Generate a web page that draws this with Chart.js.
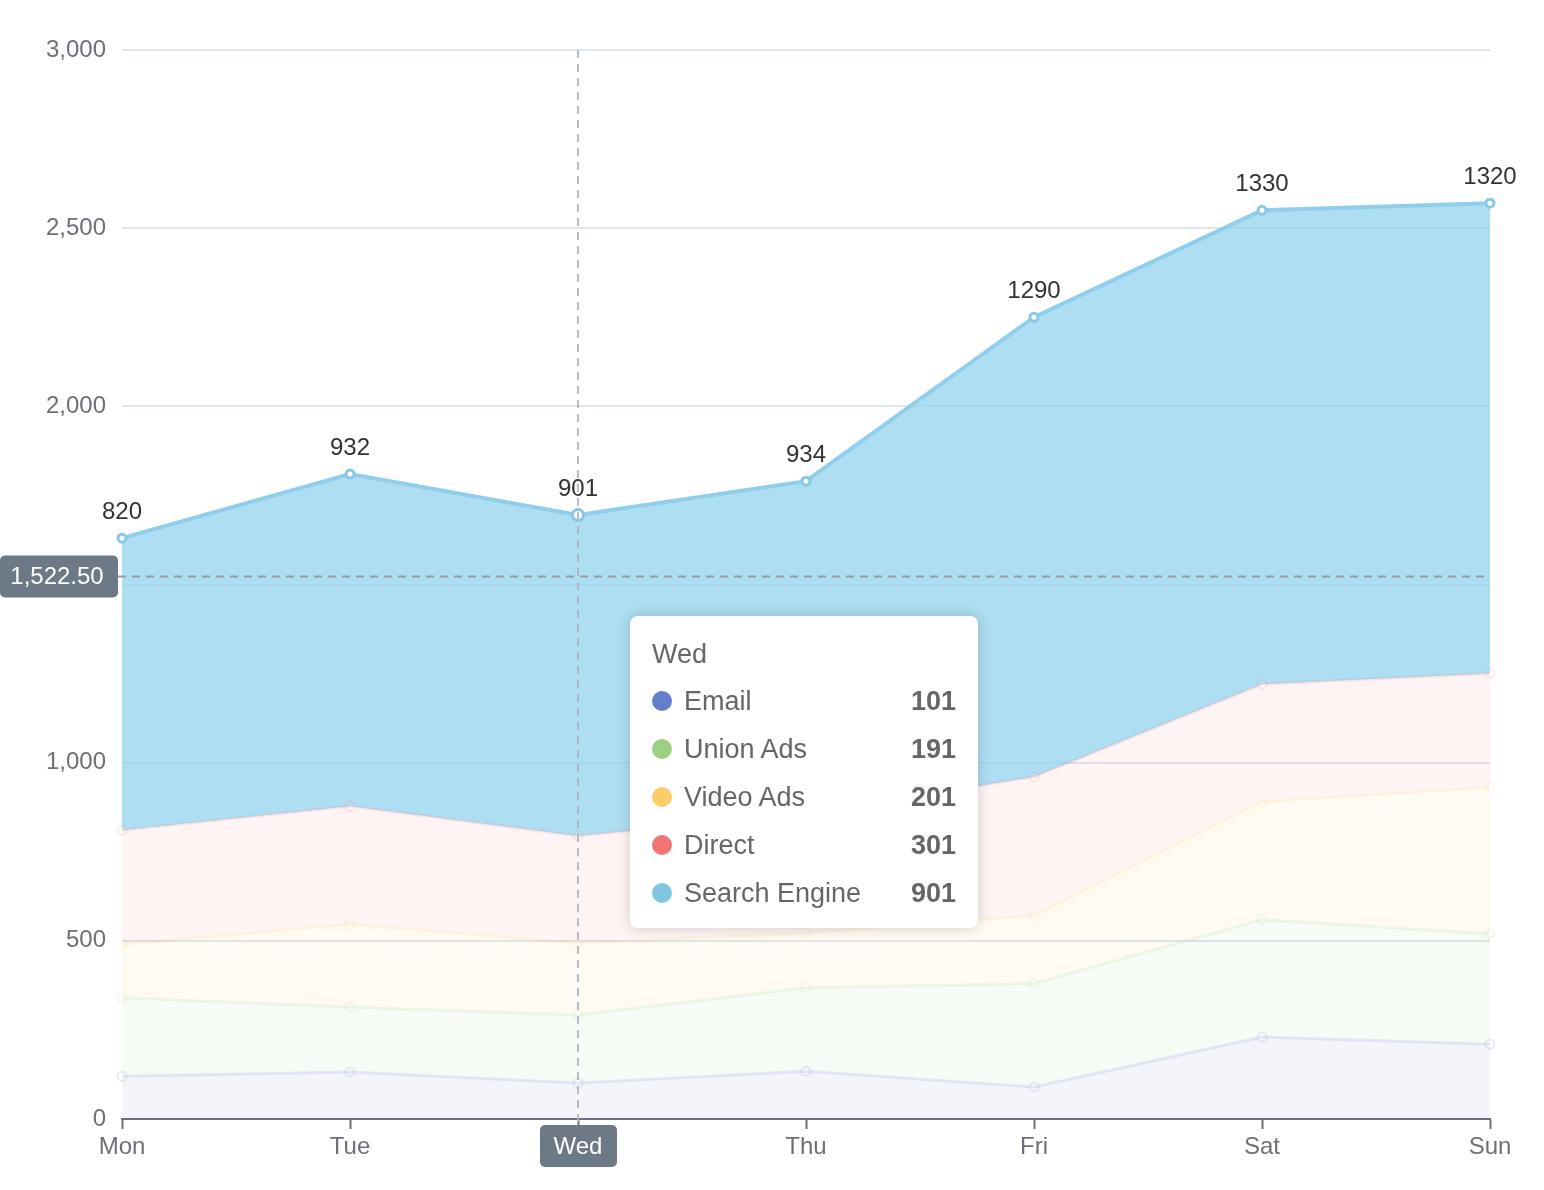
<!DOCTYPE html>
<html>
<head>
<meta charset="utf-8">
<script src="https://cdn.jsdelivr.net/npm/chart.js@4.4.1/dist/chart.umd.min.js"></script>
<style>
  html, body { margin: 0; padding: 0; background: #fff; }
  #wrap { position: relative; width: 1544px; height: 1190px; }
  #tip {
    position: absolute; background: #fff; border-radius: 8px;
    box-shadow: 0 0 14px rgba(0,0,0,0.18);
    font-family: "Liberation Sans", Arial, sans-serif; color: #666;
    padding: 20px 22px 11px 22px; box-sizing: border-box; width: 348px;
  }
  #tip .title { font-size: 27px; line-height: 36px; margin-bottom: 5px; }
  #tip .row { display: flex; align-items: center; height: 48px; font-size: 27px; }
  #tip .dot { width: 20px; height: 20px; border-radius: 50%; margin-right: 12px; }
  #tip .name { flex: 1; }
  #tip .val { font-weight: bold; }
</style>
</head>
<body>
<div id="wrap">
  <canvas id="c" width="1544" height="1190"></canvas>
  <div id="tip"></div>
</div>
<script>
const categories = ['Mon', 'Tue', 'Wed', 'Thu', 'Fri', 'Sat', 'Sun'];
const seriesNames = ['Email', 'Union Ads', 'Video Ads', 'Direct', 'Search Engine'];
const emailData = [120, 132, 101, 134, 90, 230, 210];
const unionAdsData = [220, 182, 191, 234, 290, 330, 310];
const videoAdsData = [150, 232, 201, 154, 190, 330, 410];
const directData = [320, 332, 301, 334, 390, 330, 320];
const searchEngineData = [820, 932, 901, 934, 1290, 1330, 1320];
const yTicks = [0, 500, 1000, 1500, 2000, 2500, 3000];
const hoverIndex = 2;
const pointerValue = 1522.5;

const palette = [[84,112,198],[145,204,117],[250,200,88],[238,102,102],[115,192,222]];
const allData = [emailData, unionAdsData, videoAdsData, directData, searchEngineData];
const rgba = (c, a) => `rgba(${c[0]},${c[1]},${c[2]},${a})`;

const datasets = allData.map((d, i) => {
  const focus = i === 4;
  return {
    label: seriesNames[i],
    data: d,
    fill: i === 0 ? 'origin' : '-1',
    tension: 0,
    borderWidth: focus ? 4 : 3,
    borderColor: focus ? 'rgb(143,206,236)' : rgba(palette[i], 0.13),
    backgroundColor: focus ? 'rgba(140,208,236,0.7)' : rgba(palette[i], 0.07),
    pointBackgroundColor: focus ? '#fff' : 'rgba(255,255,255,0.1)',
    pointBorderColor: focus ? 'rgb(134,200,230)' : rgba(palette[i], 0.13),
    pointBorderWidth: focus ? 3 : 2,
    pointRadius: ctx => focus ? (ctx.dataIndex === hoverIndex ? 5.5 : 4) : 4.5,
    pointHoverRadius: 4,
  };
});

const FONT = '"Liberation Sans", Arial, sans-serif';

const overlay = {
  id: 'overlay',
  afterDatasetsDraw(chart) {
    const ctx = chart.ctx;
    const xs = chart.scales.x, ys = chart.scales.y;
    const area = chart.chartArea;
    const meta = chart.getDatasetMeta(4);
    ctx.save();
    ctx.font = '24px ' + FONT;
    ctx.fillStyle = '#333';
    ctx.textAlign = 'center';
    ctx.textBaseline = 'bottom';
    meta.data.forEach((pt, i) => {
      ctx.fillText(String(searchEngineData[i]), pt.x, pt.y - 14);
    });
    const px = xs.getPixelForValue(hoverIndex);
    const py = ys.getPixelForValue(pointerValue);
    ctx.setLineDash([8, 6]);
    ctx.lineWidth = 2;
    ctx.strokeStyle = 'rgba(170,176,192,0.85)';
    ctx.beginPath(); ctx.moveTo(px, area.top); ctx.lineTo(px, area.bottom + 6); ctx.stroke();
    ctx.strokeStyle = 'rgba(150,150,150,0.9)';
    ctx.beginPath(); ctx.moveTo(118, py); ctx.lineTo(area.right, py); ctx.stroke();
    ctx.setLineDash([]);
    ctx.fillStyle = 'rgb(110,121,135)';
    ctx.beginPath(); ctx.roundRect(0, py - 21, 118, 42, 5); ctx.fill();
    ctx.fillStyle = '#fff';
    ctx.font = '24px ' + FONT;
    ctx.textAlign = 'center'; ctx.textBaseline = 'middle';
    ctx.fillText(pointerValue.toLocaleString('en-US', {minimumFractionDigits: 2}), 57, py + 1);
    ctx.fillStyle = 'rgb(110,121,135)';
    ctx.beginPath(); ctx.roundRect(px - 38, area.bottom + 6, 77, 42, 5); ctx.fill();
    ctx.fillStyle = '#fff';
    ctx.fillText(categories[hoverIndex], px, area.bottom + 28);
    ctx.restore();
  }
};

const chart = new Chart(document.getElementById('c'), {
  type: 'line',
  data: { labels: categories, datasets },
  options: {
    responsive: false,
    devicePixelRatio: 1,
    animation: false,
    events: [],
    layout: { padding: { top: 50, right: 54, left: 0, bottom: 0 } },
    plugins: { legend: { display: false }, tooltip: { enabled: false } },
    scales: {
      x: {
        offset: false,
        grid: { drawOnChartArea: false, drawTicks: true, tickLength: 10, tickColor: '#6e7079', tickWidth: 2 },
        border: { color: '#6e7079', width: 2 },
        ticks: { color: '#6e7079', font: { size: 24, family: FONT }, padding: 4, maxRotation: 0, autoSkip: false },
        afterFit(s) { s.height = 71; }
      },
      y: {
        stacked: true,
        min: 0, max: 3000,
        afterBuildTicks(s) { s.ticks = yTicks.map(v => ({ value: v })); },
        grid: { color: '#e0e6f1', lineWidth: 2, drawTicks: false },
        border: { display: false },
        ticks: {
          color: '#6e7079', font: { size: 24, family: FONT }, padding: 16,
          callback: v => v.toLocaleString('en-US')
        },
        afterFit(s) { s.width = 122; }
      }
    }
  },
  plugins: [overlay]
});

const tip = document.getElementById('tip');
let html = `<div class="title">${categories[hoverIndex]}</div>`;
allData.forEach((d, i) => {
  html += `<div class="row"><span class="dot" style="background:${rgba(palette[i], 0.9)}"></span><span class="name">${seriesNames[i]}</span><span class="val">${d[hoverIndex]}</span></div>`;
});
tip.innerHTML = html;
const px = chart.scales.x.getPixelForValue(hoverIndex);
const py = chart.scales.y.getPixelForValue(pointerValue);
tip.style.left = (px + 52) + 'px';
tip.style.top = (py + 40) + 'px';
</script>
</body>
</html>
